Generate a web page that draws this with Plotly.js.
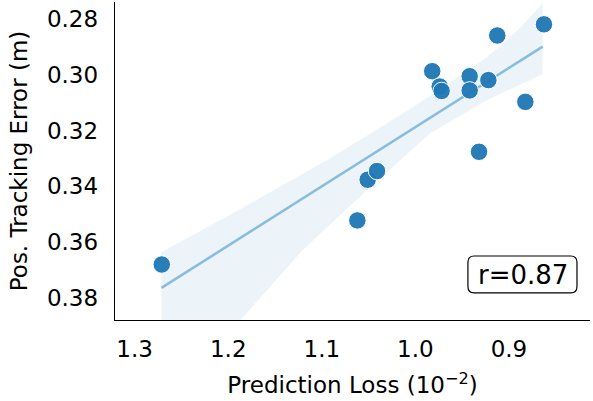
<!DOCTYPE html>
<html>
<head>
<meta charset="utf-8">
<script src="https://cdn.plot.ly/plotly-3.0.1.min.js"></script>
<style>
  html, body { margin: 0; padding: 0; background: #fff; }
  #chart { width: 593px; height: 401px; }
</style>
</head>
<body>
<div id="chart"></div>
<script>
// scatter points (prediction loss in 1e-2, tracking error in m)
const predLoss = [1.271, 1.062, 1.051, 1.041, 0.982, 0.974, 0.972, 0.942, 0.942, 0.932, 0.922, 0.9125, 0.8825, 0.8626];
const trackErr = [0.368, 0.3522, 0.3376, 0.3345, 0.2987, 0.3042, 0.3058, 0.3005, 0.3056, 0.3276, 0.3019, 0.2859, 0.3097, 0.2819];

// fitted line
const fitX = [1.2714, 0.864];
const fitY = [0.3764, 0.2899];

// confidence band edges
const bandUpperX = [1.2714, 1.1859, 1.0914, 1.0024, 0.9275, 0.9061, 0.8882, 0.864];
const bandUpperY = [0.3636, 0.3479, 0.3300, 0.3115, 0.2947, 0.2887, 0.2832, 0.2744];
const bandLowerX = [1.2714, 1.1859, 1.1209, 1.0558, 0.9845, 0.9239, 0.864];
const bandLowerY = [0.4196, 0.3881, 0.3630, 0.3426, 0.3210, 0.3091, 0.2998];

const xTicks = [1.3, 1.2, 1.1, 1.0, 0.9];
const yTicks = [0.28, 0.30, 0.32, 0.34, 0.36, 0.38];
const rLabel = "r=0.87";

const font = "DejaVu Sans, sans-serif";
const fs = 23;

const band = {
  x: bandUpperX.concat(bandLowerX.slice().reverse()),
  y: bandUpperY.concat(bandLowerY.slice().reverse()),
  mode: "lines",
  fill: "toself",
  fillcolor: "rgba(134,188,220,0.16)",
  line: { width: 0 },
  hoverinfo: "skip",
  type: "scatter",
};

const fit = {
  x: fitX,
  y: fitY,
  mode: "lines",
  line: { color: "#88bddc", width: 2.6 },
  type: "scatter",
};

const pts = {
  x: predLoss,
  y: trackErr,
  mode: "markers",
  marker: { size: 17.5, color: "rgba(31,119,180,0.95)", line: { color: "#fff", width: 1 } },
  type: "scatter",
};

// rounded box for the r label (paper coords)
const bx0 = 0.743, bx1 = 0.9726, by0 = 0.085, by1 = 0.2013, rx = 0.013, ry = 0.02;
const boxPath =
  `M ${bx0 + rx} ${by1} L ${bx1 - rx} ${by1} Q ${bx1} ${by1} ${bx1} ${by1 - ry} ` +
  `L ${bx1} ${by0 + ry} Q ${bx1} ${by0} ${bx1 - rx} ${by0} ` +
  `L ${bx0 + rx} ${by0} Q ${bx0} ${by0} ${bx0} ${by0 + ry} ` +
  `L ${bx0} ${by1 - ry} Q ${bx0} ${by1} ${bx0 + rx} ${by1} Z`;

const layout = {
  width: 593,
  height: 401,
  margin: { l: 115, r: 3, t: 2, b: 81 },
  paper_bgcolor: "#fff",
  plot_bgcolor: "#fff",
  showlegend: false,
  font: { family: font, size: fs, color: "#000" },
  xaxis: {
    range: [1.321, 0.8134],
    tickvals: xTicks,
    ticktext: xTicks.map((v) => v.toFixed(1)),
    showgrid: false,
    zeroline: false,
    showline: true,
    linecolor: "#000",
    linewidth: 1.3,
    ticks: "",
    ticklabelstandoff: 8,
    tickfont: { size: fs },
    title: { text: "Prediction Loss (10<sup>\u22122</sup>)", font: { size: fs }, standoff: 16 },
  },
  yaxis: {
    range: [0.3879, 0.2739],
    tickvals: yTicks,
    ticktext: yTicks.map((v) => v.toFixed(2)),
    showgrid: false,
    zeroline: false,
    showline: true,
    linecolor: "#000",
    linewidth: 1.3,
    ticks: "",
    ticklabelstandoff: 11,
    tickfont: { size: fs },
    title: { text: "Pos. Tracking Error (m)", font: { size: fs }, standoff: 12 },
  },
  shapes: [
    {
      type: "path",
      xref: "paper",
      yref: "paper",
      path: boxPath,
      fillcolor: "#fff",
      line: { color: "#000", width: 1.2 },
      layer: "above",
    },
  ],
  annotations: [
    {
      xref: "paper",
      yref: "paper",
      x: 0.858,
      y: 0.143,
      xanchor: "center",
      yanchor: "middle",
      text: rLabel,
      showarrow: false,
      font: { size: 26, family: font, color: "#000" },
    },
  ],
};

Plotly.newPlot("chart", [band, fit, pts], layout, { staticPlot: true, displayModeBar: false });
</script>
</body>
</html>
